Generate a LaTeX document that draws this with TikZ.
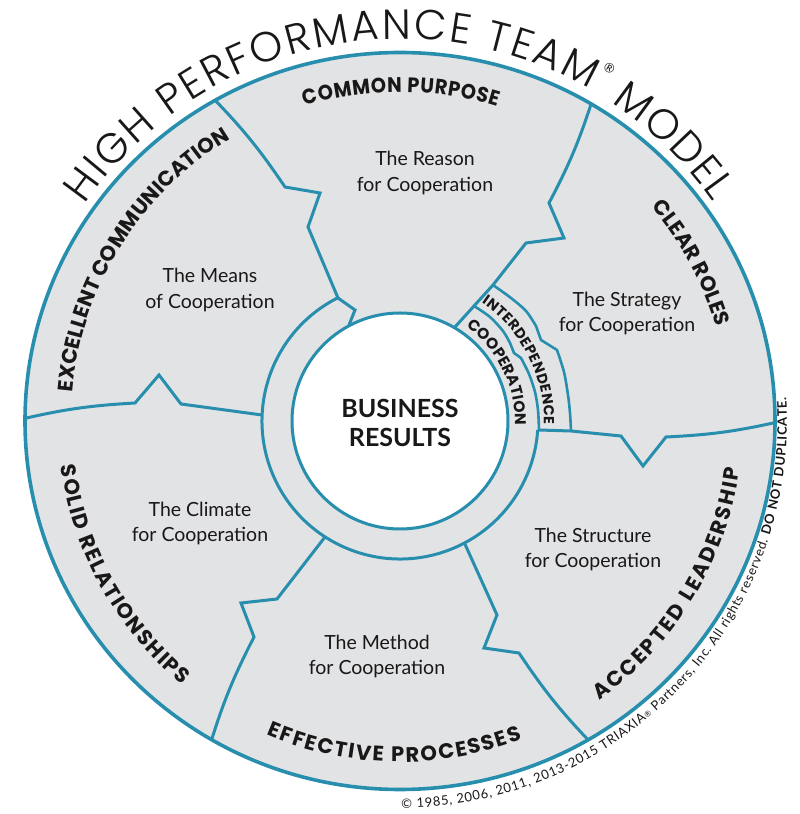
\documentclass[tikz,border=0pt]{standalone}
\usepackage{fontspec}
\usetikzlibrary{decorations.text,calc}
\newfontfamily\poppins{Poppins}
\newfontfamily\popcond{Poppins}[FakeStretch=0.92]
\newfontfamily\poplight{Poppins Light}
\newfontfamily\lato{Lato}
\definecolor{teal1}{RGB}{39,143,173}
\definecolor{fillgray}{RGB}{226,227,229}
\definecolor{ink}{RGB}{25,23,24}
\newcommand\lblfont{\color{ink}\poppins\bfseries\fontsize{21}{21}\selectfont}
\newcommand\lblcond{\color{ink}\popcond\bfseries\fontsize{21}{21}\selectfont}
\newcommand\bandfontA{\color{ink}\poppins\bfseries\fontsize{15.5}{15.5}\selectfont}
\newcommand\bandfontB{\color{ink}\poppins\bfseries\fontsize{14.5}{14.5}\selectfont}
\newcommand\ttlfont{\color{ink}\poplight\fontsize{42}{42}\selectfont}
\newcommand\cpfont{\color{ink}\lato\fontsize{13}{13}\selectfont}
\newcommand\cpsmall{\color{ink}\lato\fontsize{8}{8}\selectfont}
\newcommand\cpbold{\color{ink}\lato\bfseries\fontsize{13}{13}\selectfont}
\newcommand\bodyfont{\lato\fontsize{19.5}{24}\selectfont}
\begin{document}
\begin{tikzpicture}[x=1pt,y=1pt,
  divider/.style={draw=teal1,line width=3pt},
  ringline/.style={draw=teal1,line width=3pt},
  bandline/.style={draw=teal1,line width=2.6pt},
  body/.style={font=\bodyfont,text=ink,inner sep=0pt,anchor=base},
  core/.style={font=\lato\bfseries\fontsize{25}{25}\selectfont,text=ink,inner sep=0pt,anchor=base},
  arctext/.style={decorate,decoration={text along path,text align=fit to path,text={#1}}}
]
\useasboundingbox (0,0) rectangle (800,814);
\coordinate (C) at (400,393);
\fill[fillgray] (C) ellipse [x radius=375, y radius=368.5];
\begin{scope}
\clip (C) ellipse [x radius=375, y radius=368.5];
% Reason / Means
\draw[divider] (212,717) to[bend left=5] (285,627) -- (320,621) -- (308,587) -- (338,516) -- (355,504) -- (349,489);
% Reason / Strategy
\draw[divider] (593,716) to[bend left=5] (549,611) -- (564,576) -- (526,571) -- (493,529) -- (455,487);
% Means / Climate
\draw[divider] (18,394) to[bend left=5] (135,411) -- (159,439) -- (181,410) -- (262,399);
% Strategy / Structure
\draw[divider] (782,393) to[bend left=5] (666,377) -- (643,348) -- (621,378) -- (571,383) -- (539,384);
% Climate / Method
\draw[divider] (325,277) -- (277,215) -- (241,211) -- (254,177) to[bend right=5] (210,69);
% Method / Structure
\draw[divider] (464,272) -- (497,199) -- (484,166) -- (519,161) to[bend right=5] (593,69);
% ring
\draw[ringline] ($(C)+(117:138)$) arc[start angle=117, end angle=356.3, radius=138];
% bands
\draw[bandline] plot[smooth] coordinates {(474,508) (490,497) (503,483) (510,471)} -- (514,461) -- plot[smooth] coordinates {(521,456) (529,440) (535,422) (538,404) (539,384)};
\draw[bandline] plot[smooth] coordinates {(493,529) (511,516) (526,503) (536,488)} -- (541,474) -- plot[smooth] coordinates {(557,464) (564,442) (568,419) (570,401) (571,383)};
% core
\draw[ringline,fill=white] (C) circle[radius=108];
\end{scope}
\draw[teal1,line width=3.6pt] (C) ellipse [x radius=375, y radius=368.5];

% core text
\node[core] (bus) at (400,396) {BUSINESS};
\node[core] (res) at (400,367) {RESULTS};

% sector texts
\node[body] (reasonA) at (425,648) {The Reason};
\node[body] (reasonB) at (425,622) {for Cooperation};
\node[body] (meansA) at (210,531) {The Means};
\node[body] (meansB) at (210,505) {of Cooperation};
\node[body] (stratA) at (627,507) {The Strategy};
\node[body] (stratB) at (627,482) {for Cooperation};
\node[body] (climA) at (200,297) {The Climate};
\node[body] (climB) at (200,272) {for Cooperation};
\node[body] (structA) at (593,271) {The Structure};
\node[body] (structB) at (593,246) {for Cooperation};
\node[body] (methA) at (377,164) {The Method};
\node[body] (methB) at (377,139) {for Cooperation};

% sector labels
\path[arctext={|\lblcond|COMMON PURPOSE}] ($(C)+(106.8:329)$) arc[start angle=106.8, end angle=72.8, radius=329];
\path[arctext={|\lblfont|CLEAR ROLES}] ($(C)+(40.5:330)$) arc[start angle=40.5, end angle=16.5, radius=330];
\path[arctext={|\lblfont|EXCELLENT COMMUNICATION}] ($(C)+(175:329)$) arc[start angle=175, end angle=121, radius=329];
\path[arctext={|\lblfont|SOLID RELATIONSHIPS}] ($(C)+(187.5:342)$) arc[start angle=187.5, end angle=230.5, radius=342];
\path[arctext={|\lblfont|EFFECTIVE PROCESSES}] ($(C)+(247:341)$) arc[start angle=247, end angle=291, radius=341];
\path[arctext={|\lblfont|ACCEPTED LEADERSHIP}] ($(C)+(-54.5:343)$) arc[start angle=-54.5, end angle=-8, radius=343];

% band labels
\path[arctext={|\bandfontA|COOPERATION}] ($(C)+(55:115)$) arc[start angle=55, end angle=-2, radius=115];
\path[arctext={|\bandfontB|INTERDEPENDENCE}] ($(C)+(55.5:144)$) arc[start angle=55.5, end angle=-1.5, radius=144];

% title
\path[arctext={|\ttlfont|HIGH PERFORMANCE TEAM}] ($(C)+(145.5:382)$) arc[start angle=145.5, end angle=60.3, radius=382];
\path[arctext={|\ttlfont|MODEL}] ($(C)+(56.4:382)$) arc[start angle=56.4, end angle=35, radius=382];
\node[rotate=-30.6,inner sep=0pt,text=ink] (reg) at ($(C)+(59.3:410)$) {\lato\fontsize{13}{13}\selectfont ®};

% copyright
\path[arctext={|\cpfont|© 1985, 2006, 2011, 2013-2015 TRIAXIA|\cpsmall|®|\cpfont| Partners, Inc. All rights reserved. |\cpbold|DO NOT DUPLICATE.}] ($(C)+(-89.8:387)$) arc[start angle=-89.8, end angle=3.5, radius=387];
\end{tikzpicture}
\end{document}
